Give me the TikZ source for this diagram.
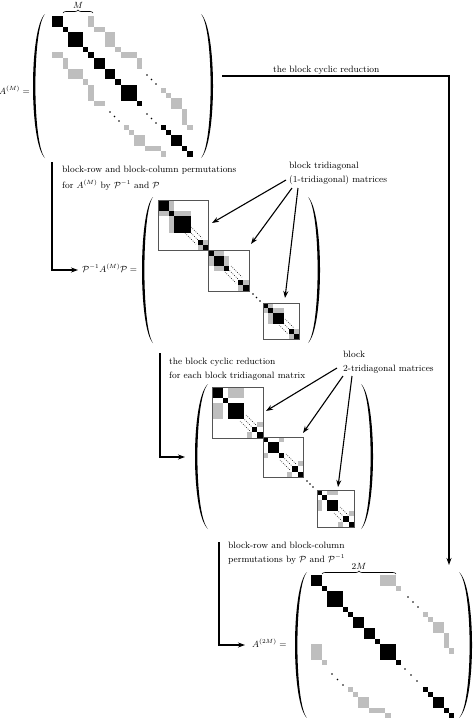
\documentclass[tikz,border=0pt]{standalone}
\usetikzlibrary{arrows.meta,decorations.pathreplacing}
\definecolor{lgray}{RGB}{190,190,190}
\definecolor{boxc}{RGB}{85,85,85}
\newcommand\blkr[4]{\fill[black] (#1,#2) rectangle (#3,#4);}
\newcommand\grr[4]{\fill[lgray] (#1,#2) rectangle (#3,#4);}
\newcommand\mydot[2]{\fill (#1,#2) circle[radius=0.8pt];}
\newcommand\tridots[4]{\draw[dotline] (#1,#2) -- (#3,#4);
  \draw[dotline] ({#1+3},{#2-3}) -- ({#3+3},{#4-3});
  \draw[dotline] ({#1-3},{#2+3}) -- ({#3-3},{#4+3});}
\newcommand\parenshape[5]{\fill (#1,#3)
  .. controls ({(#2-0.25*#1)/0.75},{#3+0.1*(#4-#3)}) and ({(#2-0.25*#1)/0.75},{#4-0.1*(#4-#3)}) .. (#1,#4)
  .. controls ({(#2+#5-0.25*#1)/0.75},{#4-0.1*(#4-#3)}) and ({(#2+#5-0.25*#1)/0.75},{#3+0.1*(#4-#3)}) .. (#1,#3) -- cycle;}
\begin{document}
\begin{tikzpicture}[x=1pt,y=-1pt,
  conn/.style={line width=1.1pt,-{Stealth[length=7pt,width=5pt]}},
  bx/.style={draw=boxc,line width=0.9pt},
  dotline/.style={line width=0.7pt,dash pattern=on 0.7pt off 1.5pt},
  lbl/.style={inner sep=0pt,anchor=base west,font=\fontsize{9.2}{14}\selectfont},
  eq/.style={inner sep=0pt,anchor=mid west,font=\fontsize{9.2}{14}\selectfont},
  brc/.style={decorate,decoration={brace,amplitude=3pt},line width=0.6pt}]
\useasboundingbox (0,0) rectangle (474,718);
\clip (0,0) rectangle (474,718);
\fill[white] (0,0) rectangle (474,718);

% ---------------- Matrix 1 ----------------
\node[eq] (AM) at (-1,92) {$A^{(M)}=$};
\parenshape{45}{33}{14}{158}{2.4}
\parenshape{201}{213}{14}{158}{-2.4}
\blkr{52}{16}{63}{27} \blkr{63}{27}{68}{32} \blkr{68}{32}{83}{47} \blkr{83}{47}{88}{52}
\blkr{88}{52}{94}{58} \blkr{94}{58}{105}{69} \blkr{105}{69}{115}{79} \blkr{115}{79}{121}{85}
\blkr{121}{85}{137}{101} \blkr{137}{101}{142}{106}
\blkr{161}{125}{166}{130} \blkr{166}{130}{171}{135} \blkr{171}{135}{182}{146}
\blkr{182}{146}{187}{151} \blkr{187}{151}{193}{157}
\grr{88}{16}{94}{27} \grr{94}{27}{105}{32} \grr{105}{32}{115}{47} \grr{115}{47}{121}{52}
\grr{121}{52}{137}{58} \grr{137}{58}{142}{69}
\grr{161}{88}{166}{93} \grr{166}{93}{171}{98} \grr{171}{98}{182}{109} \grr{182}{109}{187}{125} \grr{187}{125}{193}{130}
\grr{52}{52}{63}{58} \grr{63}{58}{68}{69} \grr{68}{69}{83}{79} \grr{83}{79}{88}{85}
\grr{88}{85}{94}{101} \grr{94}{101}{105}{106}
\grr{124}{125}{129}{130} \grr{129}{130}{134}{135} \grr{134}{135}{145}{146} \grr{145}{146}{161}{151} \grr{161}{151}{166}{157}
\mydot{147}{114}\mydot{151.5}{118.5}\mydot{156}{123}
\mydot{147}{75}\mydot{151.5}{79.5}\mydot{156}{84}
\mydot{110}{112}\mydot{114.5}{116.5}\mydot{119}{121}
\draw[brc] (63,13) -- (93,13);
\node[inner sep=0pt,anchor=base,font=\fontsize{9.2}{14}\selectfont] (Mlab) at (78,8) {$M$};

% big arrow: block cyclic reduction
\coordinate (r1) at (222,76);
\coordinate (r2) at (449,76);
\coordinate (r3) at (449,565);
\draw[conn] (r1) -- (r2) -- (r3);
\node[lbl] (cyc1) at (273,72) {the block cyclic reduction};

% arrow 1
\coordinate (a1s) at (52,162);
\coordinate (a1e) at (78,270);
\draw[conn] (a1s) |- (a1e);
\node[lbl] (perm1a) at (62,172) {block-row and block-column permutations};
\node[lbl] (perm1b) at (62,188) {for $A^{(M)}$ by $\mathcal{P}^{-1}$ and $\mathcal{P}$};

% ---------------- Matrix 2 ----------------
\node[eq] (PAP) at (82,270) {$\mathcal{P}^{-1}A^{(M)}\mathcal{P}=$};
\parenshape{153}{142}{197}{343}{2.4}
\parenshape{308}{320}{197}{343}{-2.4}
% box 1
\grr{169}{200}{174}{211} \grr{158}{211}{169}{216} \grr{174}{211}{191}{216} \grr{169}{216}{174}{233}
\grr{203}{240}{208}{245} \grr{198}{245}{203}{250}
\blkr{158}{200}{169}{211} \blkr{169}{211}{174}{216} \blkr{174}{216}{191}{233}
\blkr{198}{240}{203}{245} \blkr{203}{245}{208}{250}
\tridots{188}{230}{199}{241}
\draw[bx] (158,200) rectangle (208,250);
% box 2
\grr{214}{250}{224}{256} \grr{208}{256}{214}{266} \grr{224}{256}{229}{266} \grr{214}{266}{224}{271}
\grr{243}{280}{249}{285} \grr{238}{285}{243}{291}
\blkr{208}{250}{214}{256} \blkr{214}{256}{224}{266} \blkr{224}{266}{229}{271}
\blkr{238}{280}{243}{285} \blkr{243}{285}{249}{291}
\tridots{228}{269}{239}{280}
\draw[bx] (208,250) rectangle (249,291);
\mydot{253}{294}\mydot{256.5}{297.5}\mydot{260}{301}
% box 3
\grr{268}{303}{273}{308} \grr{263}{308}{268}{313} \grr{273}{308}{284}{313} \grr{268}{313}{273}{324}
\grr{294}{329}{299}{334} \grr{289}{334}{294}{339}
\blkr{263}{303}{268}{308} \blkr{268}{308}{273}{313} \blkr{273}{313}{284}{324}
\blkr{289}{329}{294}{334} \blkr{294}{334}{299}{339}
\tridots{282}{322}{291}{331}
\draw[bx] (263,303) rectangle (299,339);

\node[lbl] (bt1) at (289,168) {block tridiagonal};
\node[lbl] (bt2) at (289,182) {(1-tridiagonal) matrices};
\coordinate (s1) at (286,180); \coordinate (t1) at (212,223);
\coordinate (s2) at (292,188); \coordinate (t2) at (251,244);
\coordinate (s3) at (298,188); \coordinate (t3) at (285,298);
\draw[conn] (s1) -- (t1);
\draw[conn] (s2) -- (t2);
\draw[conn] (s3) -- (t3);

% arrow 2
\coordinate (a2s) at (160,353);
\coordinate (a2e) at (185,457);
\draw[conn] (a2s) |- (a2e);
\node[lbl] (cyc2a) at (169,364) {the block cyclic reduction};
\node[lbl] (cyc2b) at (169,378) {for each block tridiagonal matrix};

% ---------------- Matrix 3 ----------------
\parenshape{208}{195}{384}{529}{2.4}
\parenshape{361}{373}{384}{529}{-2.4}
% box A
\grr{228}{387}{244}{398} \grr{212}{403}{223}{419} \grr{257}{422}{263}{427} \grr{247}{432}{252}{438}
\blkr{212}{387}{223}{398} \blkr{223}{398}{228}{403} \blkr{228}{403}{244}{419}
\blkr{252}{427}{257}{432} \blkr{257}{432}{263}{438}
\tridots{243}{418}{254}{429}
\draw[bx] (212,387) rectangle (263,438);
% box B
\grr{279}{437}{284}{442} \grr{263}{453}{268}{458} \grr{298}{461}{303}{466} \grr{287}{472}{292}{477}
\blkr{263}{437}{268}{442} \blkr{268}{442}{279}{453} \blkr{279}{453}{284}{458}
\blkr{292}{466}{298}{472} \blkr{298}{472}{303}{477}
\tridots{283}{457}{293}{467}
\draw[bx] (263,437) rectangle (303,477);
\mydot{307}{481}\mydot{310}{484}\mydot{313}{487}
% box C
\grr{327}{490}{338}{495} \grr{317}{500}{322}{511} \grr{349}{511}{354}{516} \grr{338}{522}{343}{527}
\blkr{317}{490}{322}{495} \blkr{322}{495}{327}{500} \blkr{327}{500}{338}{511}
\blkr{343}{516}{349}{522} \blkr{349}{522}{354}{527}
\tridots{337}{510}{345}{518}
\draw[bx] (317,490) rectangle (354,527);

\node[lbl] (b2a) at (343,357) {block};
\node[lbl] (b2b) at (343,371) {2-tridiagonal matrices};
\coordinate (u1) at (337,368); \coordinate (v1) at (266,411);
\coordinate (u2) at (343,376); \coordinate (v2) at (303,433);
\coordinate (u3) at (352,376); \coordinate (v3) at (338,487);
\draw[conn] (u1) -- (v1);
\draw[conn] (u2) -- (v2);
\draw[conn] (u3) -- (v3);

% arrow 3
\coordinate (a3s) at (219,542);
\coordinate (a3e) at (245,645);
\draw[conn] (a3s) |- (a3e);
\node[lbl] (perm2a) at (228,548) {block-row and block-column};
\node[lbl] (perm2b) at (228,562) {permutations by $\mathcal{P}$ and $\mathcal{P}^{-1}$};

% ---------------- Matrix 4 ----------------
\node[eq] (A2M) at (252,645) {$A^{(2M)}=$};
\parenshape{307}{295}{572}{718}{2.4}
\parenshape{459}{472}{572}{718}{-2.4}
\blkr{311}{575}{322}{586} \blkr{322}{586}{327}{591} \blkr{327}{591}{343}{607} \blkr{343}{607}{348}{612}
\blkr{348}{612}{353}{617} \blkr{353}{617}{364}{628} \blkr{364}{628}{375}{639} \blkr{375}{639}{380}{644}
\blkr{380}{644}{396}{660} \blkr{396}{660}{401}{665}
\blkr{423}{687}{428}{692} \blkr{428}{692}{433}{697} \blkr{433}{697}{444}{708}
\blkr{444}{708}{449}{713} \blkr{449}{713}{454}{718}
\grr{380}{575}{396}{586} \grr{396}{586}{401}{591}
\grr{423}{612}{428}{617} \grr{428}{617}{433}{622} \grr{433}{622}{444}{633} \grr{444}{633}{449}{648} \grr{449}{648}{454}{654}
\grr{311}{644}{322}{660} \grr{322}{660}{327}{665}
\grr{348}{687}{353}{692} \grr{353}{692}{358}{697} \grr{358}{697}{369}{708} \grr{369}{708}{385}{713} \grr{385}{713}{391}{718}
\mydot{405}{669}\mydot{411}{675}\mydot{417}{681}
\mydot{408}{597}\mydot{413}{602}\mydot{418}{607}
\mydot{332}{674}\mydot{337.5}{679.5}\mydot{343}{685}
\draw[brc] (322,574) -- (396,574);
\node[inner sep=0pt,anchor=base,font=\fontsize{9.2}{14}\selectfont] (M2lab) at (359,569) {$2M$};
\end{tikzpicture}
\end{document}
